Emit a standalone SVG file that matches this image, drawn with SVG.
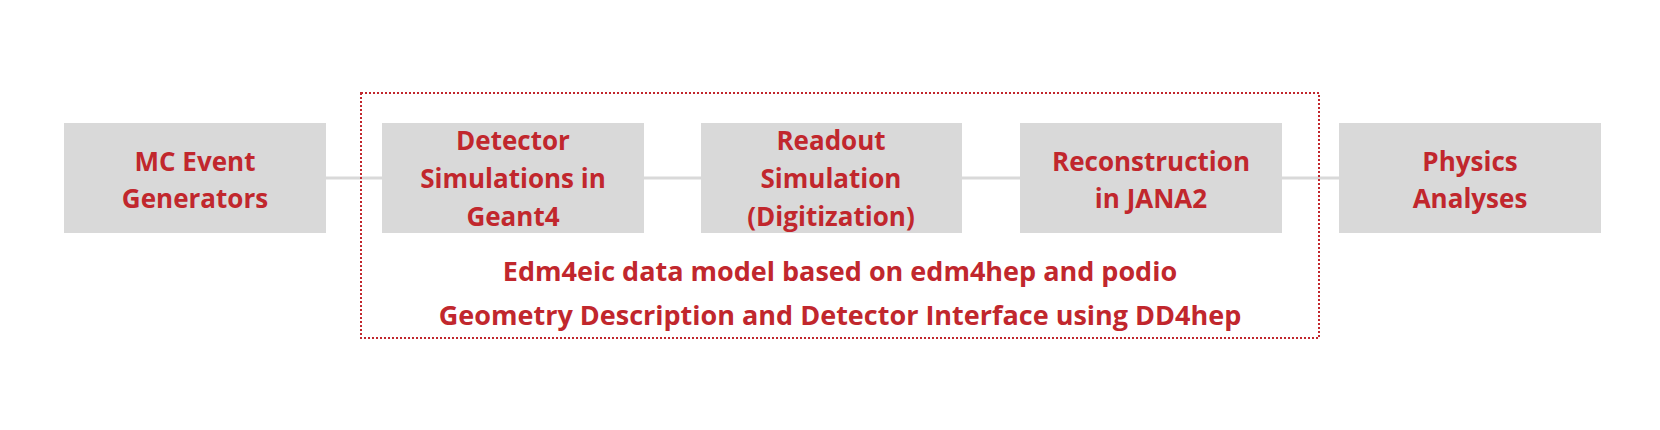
<svg xmlns="http://www.w3.org/2000/svg" width="1660" height="430" viewBox="0 0 1660 430">
<style>
.box{fill:#d9d9d9}
.t{font-family:"Open Sans",sans-serif;font-weight:bold;font-size:26px;fill:#c1272d;text-anchor:middle}
.b{font-size:27px}
.c{stroke:#d9d9d9;stroke-width:3;fill:none}
</style>
<rect width="1660" height="430" fill="#fff"/>
<g id="connectors">
<line class="c" x1="326" y1="178" x2="382" y2="178"/>
<line class="c" x1="644" y1="178" x2="701" y2="178"/>
<line class="c" x1="962" y1="178" x2="1020" y2="178"/>
<line class="c" x1="1282" y1="178" x2="1339" y2="178"/>
</g>
<g id="frame">
<rect x="361" y="93" width="958" height="245" fill="none" stroke="#c1272d" stroke-width="2" stroke-dasharray="2,2"/>
<text class="t b" x="840" y="281">Edm4eic data model based on edm4hep and podio</text>
<text class="t b" x="840" y="325">Geometry Description and Detector Interface using DD4hep</text>
</g>
<g id="mc"><rect class="box" x="64" y="123" width="262" height="110"/>
<text class="t" x="195" y="171">MC Event</text><text class="t" x="195" y="208">Generators</text></g>
<g id="det"><rect class="box" x="382" y="123" width="262" height="110"/>
<text class="t" x="513" y="150">Detector</text><text class="t" x="513" y="188">Simulations in</text><text class="t" x="513" y="226">Geant4</text></g>
<g id="readout"><rect class="box" x="701" y="123" width="261" height="110"/>
<text class="t" x="831" y="150">Readout</text><text class="t" x="831" y="188">Simulation</text><text class="t" x="831" y="226">(Digitization)</text></g>
<g id="reco"><rect class="box" x="1020" y="123" width="262" height="110"/>
<text class="t" x="1151" y="171">Reconstruction</text><text class="t" x="1151" y="208">in JANA2</text></g>
<g id="phys"><rect class="box" x="1339" y="123" width="262" height="110"/>
<text class="t" x="1470" y="171">Physics</text><text class="t" x="1470" y="208">Analyses</text></g>
</svg>
